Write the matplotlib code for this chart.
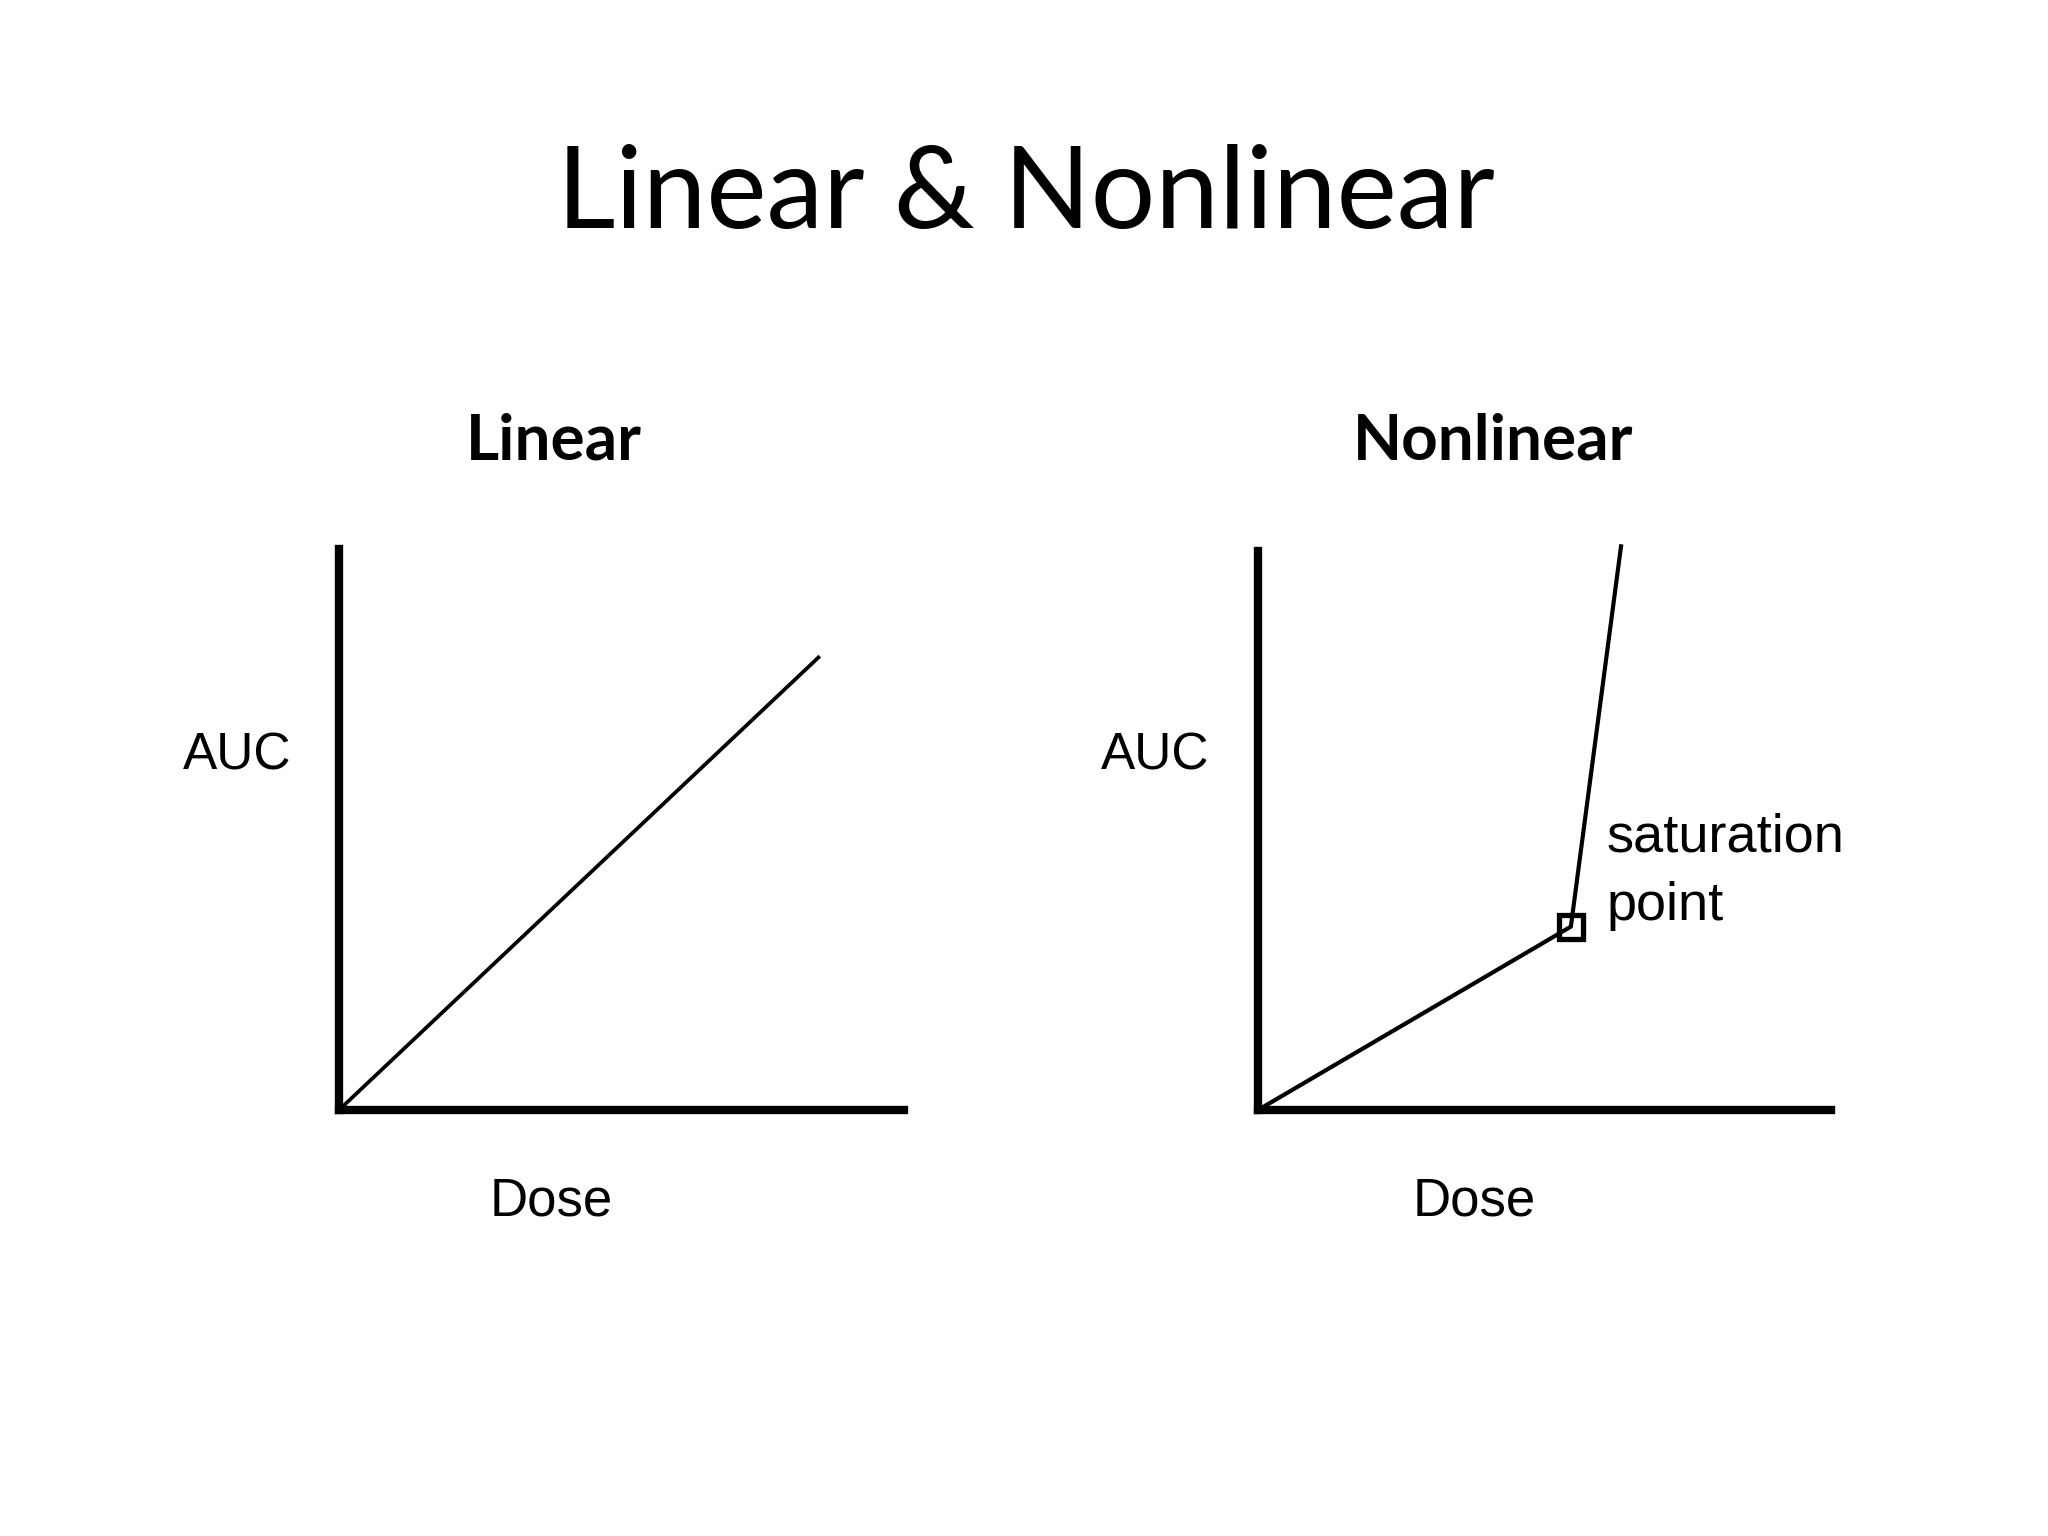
import matplotlib
matplotlib.use("Agg")
import matplotlib.pyplot as plt

# ---- data ----
title = "Linear & Nonlinear"
panel_titles = ["Linear", "Nonlinear"]
x_label = "Dose"
y_label = "AUC"

linear_dose = [0.0, 0.851]
linear_auc = [0.0, 0.809]

nonlinear_dose = [0.0, 0.546, 0.634]
nonlinear_auc = [0.0, 0.328, 1.012]
saturation_index = 1
saturation_label = "saturation\npoint"

W, H = 2048, 1536
fig = plt.figure(figsize=(W / 100, H / 100), dpi=100)
fig.patch.set_facecolor("white")

def px(x, y):
    return x / W, 1 - y / H

label_font = ["Liberation Sans", "DejaVu Sans"]
title_font = ["Lato", "DejaVu Sans"]

# Title
fig.text(*px(1026, 228), title, ha="center", va="baseline",
         fontsize=82, family=title_font, color="black")

def make_axes(x0, x1, y_top, y_bot):
    ax = fig.add_axes([x0 / W, 1 - y_bot / H, (x1 - x0) / W, (y_bot - y_top) / H])
    ax.set_xlim(0, 1)
    ax.set_ylim(0, 1)
    for s in ["top", "right"]:
        ax.spines[s].set_visible(False)
    for s in ["left", "bottom"]:
        ax.spines[s].set_linewidth(6)
        ax.spines[s].set_color("black")
    ax.set_xticks([])
    ax.set_yticks([])
    ax.patch.set_alpha(0)
    return ax

# Left panel
axL = make_axes(339, 904, 549, 1110)
axL.plot(linear_dose, linear_auc, color="black", lw=2.7, solid_capstyle="butt",
         clip_on=False, zorder=3)

# Right panel
axR = make_axes(1258, 1831, 551, 1110)
axR.plot(nonlinear_dose[saturation_index], nonlinear_auc[saturation_index],
         marker="s", ms=17, mew=3.8, mfc="white", mec="black",
         clip_on=False, zorder=2)
axR.plot(nonlinear_dose, nonlinear_auc, color="black", lw=3.0,
         solid_capstyle="butt", clip_on=False, zorder=3)

# Panel titles
fig.text(*px(554, 460), panel_titles[0], ha="center", va="baseline",
         fontsize=46, fontweight="bold", family=title_font)
fig.text(*px(1493, 460), panel_titles[1], ha="center", va="baseline",
         fontsize=46, fontweight="bold", family=title_font)

# Axis labels
fig.text(*px(237, 769), y_label, ha="center", va="baseline",
         fontsize=37, family=label_font)
fig.text(*px(1155, 769), y_label, ha="center", va="baseline",
         fontsize=37, family=label_font)
fig.text(*px(551, 1215), x_label, ha="center", va="baseline",
         fontsize=38, family=label_font)
fig.text(*px(1474, 1215), x_label, ha="center", va="baseline",
         fontsize=38, family=label_font)

# Saturation annotation
lines = saturation_label.split("\n")
fig.text(*px(1607, 852), lines[0], ha="left", va="baseline",
         fontsize=39, family=label_font)
fig.text(*px(1607, 920), lines[1], ha="left", va="baseline",
         fontsize=39, family=label_font)

fig.savefig("out.png", dpi=100, facecolor="white")
